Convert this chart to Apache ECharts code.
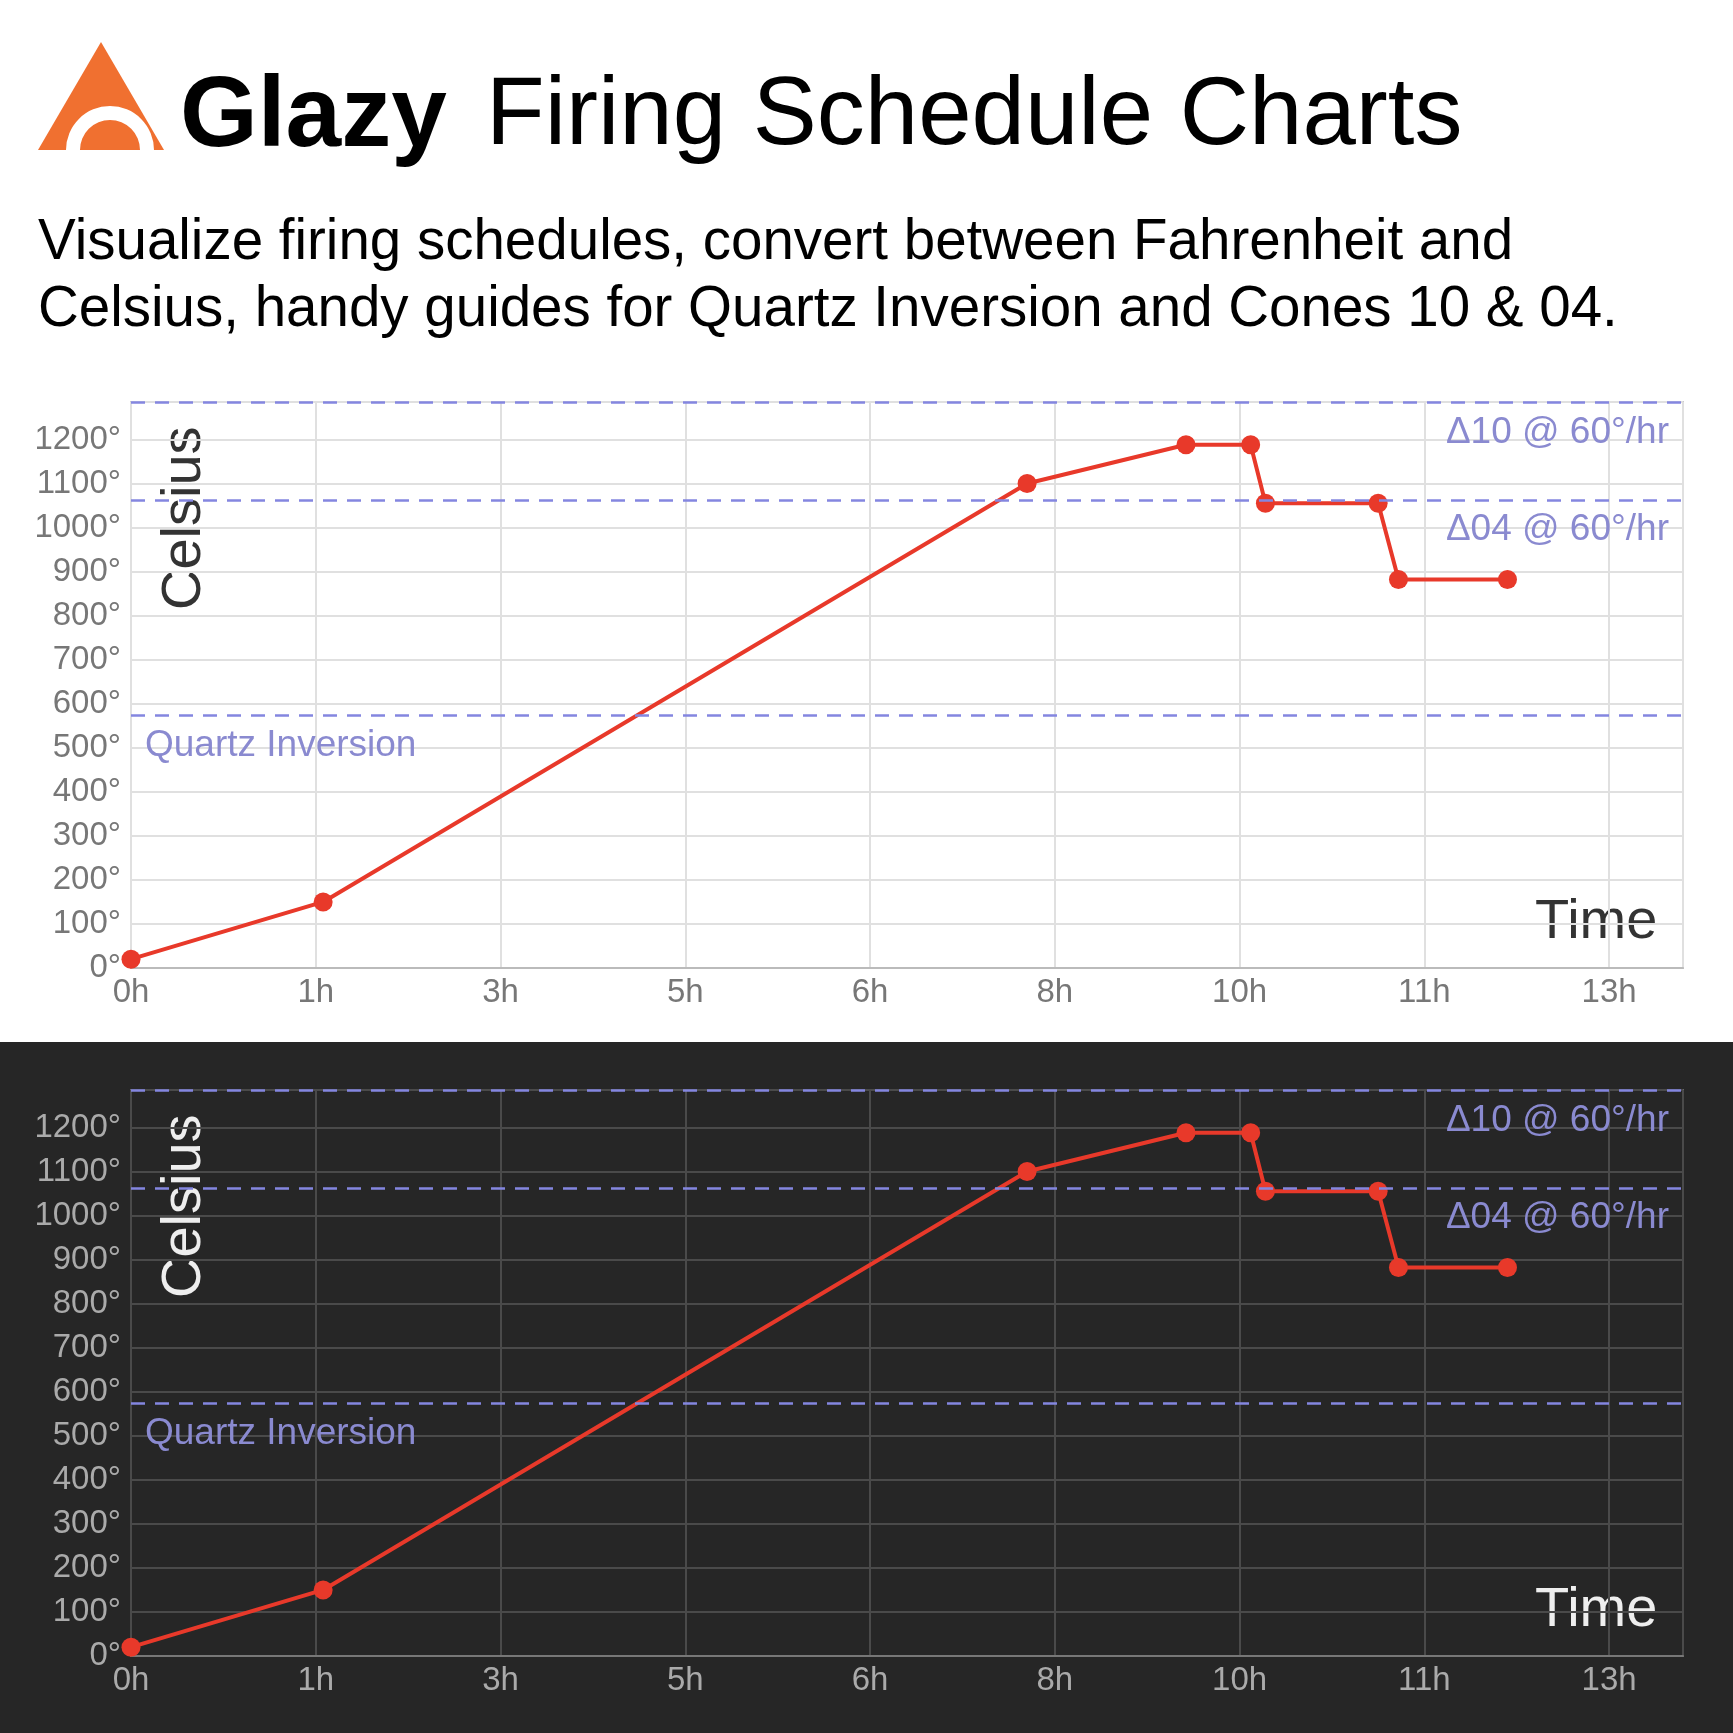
<!DOCTYPE html>
<html><head><meta charset="utf-8">
<script src="https://cdn.jsdelivr.net/npm/echarts@6/dist/echarts.min.js"></script>
<style>html,body{margin:0;padding:0;background:#fff}#c{width:1733px;height:1733px}</style>
</head><body><div id="c"></div>
<script>
const timesMin = [0, 104, 485, 571, 606, 614, 675, 686, 745];
const tempsC = [20, 150, 1100, 1188, 1188, 1055, 1055, 882, 882];
const guideValues = [1285, 1063, 573];
const guideLabels = ['Δ10 @ 60°/hr', 'Δ04 @ 60°/hr', 'Quartz Inversion'];
const data = timesMin.map((t, i) => [t, tempsC[i]]);
const FONT = 'Helvetica, "Liberation Sans", Arial, sans-serif';

function axes(idx, dark) {
  const lab = dark ? '#aaa' : '#777';
  const grid = dark ? '#4a4a4a' : '#e0e0e0';
  return {
    x: { type: 'value', gridIndex: idx, min: 0, max: 840, interval: 100,
      axisLine: { lineStyle: { color: dark ? '#777' : '#bbb', width: 2 } }, axisTick: { show: false },
      axisLabel: { color: lab, fontSize: 33, fontFamily: FONT, margin: 8, showMaxLabel: false,
        formatter: v => Math.floor(v / 60) + 'h' },
      splitLine: { lineStyle: { color: grid, width: 2 } } },
    y: { type: 'value', gridIndex: idx, min: 0, max: 1285, interval: 100,
      axisLine: { show: false }, axisTick: { show: false },
      axisLabel: { color: lab, fontSize: 33, fontFamily: FONT, margin: 10, showMaxLabel: false,
        formatter: v => v + '°' },
      splitLine: { lineStyle: { color: grid, width: 2 } } }
  };
}
function series(idx) {
  return { type: 'line', xAxisIndex: idx, yAxisIndex: idx, data: data,
    lineStyle: { color: '#e8392a', width: 4 }, itemStyle: { color: '#e8392a' },
    symbol: 'circle', symbolSize: 19, animation: false,
    markLine: { silent: true, symbol: 'none', animation: false,
      lineStyle: { type: [14, 10], color: '#8486e0', width: 2.5 },
      data: guideValues.map((v, i) => ({ yAxis: v,
        label: { formatter: guideLabels[i], position: i === 2 ? 'insideStartBottom' : 'insideEndBottom',
          color: '#8a8ad0', fontSize: 37, fontFamily: FONT, distance: [14, 12] } })) } };
}
const a0 = axes(0, false), a1 = axes(1, true);
const chart = echarts.init(document.getElementById('c'));
const txt = (x, y, s, size, color, extra) => Object.assign({ type: 'text', x, y,
  style: { text: s, fontSize: size, fill: color, fontFamily: FONT } }, extra || {});
chart.setOption({
  backgroundColor: '#fff',
  animation: false,
  grid: [
    { left: 131, right: 50, top: 402, height: 566, show: true, borderColor: '#ccc', borderWidth: 2 },
    { left: 131, right: 50, top: 1090, height: 566, show: true, borderColor: '#666', borderWidth: 2 }
  ],
  xAxis: [a0.x, a1.x], yAxis: [a0.y, a1.y],
  series: [series(0), series(1)],
  graphic: [
    { type: 'rect', z: -10, shape: { x: 0, y: 1042, width: 1733, height: 691 }, style: { fill: '#262626' } },
    { type: 'polygon', shape: { points: [[101, 42], [38, 150], [164, 150]] }, style: { fill: '#f07030' } },
    { type: 'sector', shape: { cx: 110, cy: 150, r: 44, r0: 30, startAngle: Math.PI, endAngle: 2 * Math.PI }, style: { fill: '#fff' } },
    txt(180, 68, 'Glazy', 100, '#000', { style: { text: 'Glazy', fontSize: 100, fontWeight: 'bold', fill: '#000', fontFamily: FONT } }),
    txt(486, 70, 'Firing Schedule Charts', 96, '#000'),
    txt(38, 215, 'Visualize firing schedules, convert between Fahrenheit and', 56.5, '#000'),
    txt(38, 282, 'Celsius, handy guides for Quartz Inversion and Cones 10 & 04.', 56.5, '#000'),
    txt(157, 610, 'Celsius', 56, '#333', { rotation: Math.PI / 2 }),
    txt(1535, 895, 'Time', 56, '#333'),
    txt(157, 1298, 'Celsius', 56, '#eee', { rotation: Math.PI / 2 }),
    txt(1535, 1583, 'Time', 56, '#eee')
  ]
});
</script></body></html>
